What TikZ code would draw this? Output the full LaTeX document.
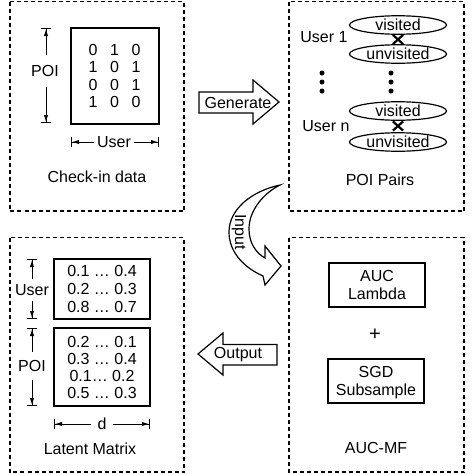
\documentclass[tikz,border=0pt]{standalone}
\usepackage{fontspec}
\setmainfont{Liberation Sans}
\usetikzlibrary{arrows.meta,shapes.geometric,shapes.misc}
\begin{document}
\begin{tikzpicture}[x=1pt,y=-1pt,
  every node/.style={font=\fontsize{16}{17.3}\selectfont, inner sep=0pt},
  dashbox/.style={draw, line width=1.2pt, dash pattern=on 4pt off 3pt},
  solidbox/.style={draw, line width=1.2pt},
  dimline/.style={line width=1pt, {Bar[width=10pt]Latex[length=7pt,width=4.5pt]}-{Latex[length=7pt,width=4.5pt]Bar[width=10pt]}},
  dimlabel/.style={fill=white},
  pairell/.style={ellipse, draw, line width=1.2pt, minimum width=97pt, minimum height=18.5pt, inner sep=0pt},
  xmark/.style={cross out, draw, line width=2.2pt, minimum width=8pt, minimum height=7pt, inner sep=0pt},
  dotnode/.style={circle, fill, minimum size=5pt, inner sep=0pt},
  blockarrow/.style={draw, line width=1.2pt, fill=white, line join=miter}]
\useasboundingbox (0,0) rectangle (474,474);

% dashed panels
\draw[dashbox] (10,1.5) rectangle (184,211);
\draw[dashbox] (289,1.5) rectangle (464,211);
\draw[dashbox] (10,237.5) rectangle (184,472);
\draw[dashbox] (289,237.5) rectangle (464,472);

% ---- Check-in data
\node[solidbox, minimum width=88pt, minimum height=96pt] (mat) at (115,76) {};
\node[align=center] (matv) at (114.5,76) {0\hspace{12.6pt}1\hspace{12.6pt}0\\1\hspace{12.6pt}0\hspace{12.6pt}1\\0\hspace{12.6pt}0\hspace{12.6pt}1\\1\hspace{12.6pt}0\hspace{12.6pt}0};
\coordinate (poiT) at (46,28);
\coordinate (poiB) at (46,123);
\draw[dimline] (poiT) -- (poiB);
\node[dimlabel, inner xsep=1pt, inner ysep=10pt] (poilab) at (45,71) {POI};
\coordinate (usrL) at (71,142);
\coordinate (usrR) at (159,142);
\draw[dimline] (usrL) -- (usrR);
\node[dimlabel, inner xsep=3pt, inner ysep=2pt] (usrlab) at (114,142) {User};
\node (check) at (97,177) {Check-in data};

% ---- POI pairs
\node[pairell] (v1) at (398,25) {visited};
\node[pairell] (u1) at (398,54) {unvisited};
\node[xmark] (x1) at (398,39.5) {};
\node (user1) at (324,37) {User 1};
\node[dotnode] (d1) at (322,73) {};
\node[dotnode] (d2) at (322,82) {};
\node[dotnode] (d3) at (322,91) {};
\node[dotnode] (d4) at (391,73) {};
\node[dotnode] (d5) at (391,82) {};
\node[dotnode] (d6) at (391,91) {};
\node[pairell] (v2) at (398,111) {visited};
\node[pairell] (u2) at (398,142) {unvisited};
\node[xmark] (x2) at (398,126) {};
\node (usern) at (326,126) {User n};
\node (pairs) at (380,180) {POI Pairs};

% ---- Generate arrow
\draw[blockarrow] (199,92) -- (253,92) -- (253,80) -- (279,102) -- (253,124) -- (253,113) -- (199,113) -- cycle;
\node (gen) at (238,102.5) {Generate};

% ---- Input curved arrow
\draw[blockarrow] (280,185) .. controls (252,191) and (229,209) .. (229,232)
  .. controls (229,253) and (245,268) .. (263,276)
  -- (265,285) -- (281,266) -- (265,246) -- (265,258)
  .. controls (256,253) and (249,243) .. (249,229)
  .. controls (249,210) and (264,193) .. cycle;
\node[rotate=-90] (inp) at (239,232) {Input};

% ---- Output arrow
\draw[blockarrow] (198,354) -- (223,333) -- (223,344.5) -- (277,344.5) -- (277,365) -- (223,365) -- (223,375) -- cycle;
\node (outp) at (238,355) {Output};

% ---- Latent matrix
\node[solidbox, minimum width=96pt, minimum height=60pt] (ub) at (102,289) {};
\node[align=center, font=\fontsize{16}{18}\selectfont] (ubv) at (102,289) {0.1 … 0.4\\0.2 … 0.3\\0.8 … 0.7};
\node[solidbox, minimum width=96pt, minimum height=78pt] (pb) at (102,367) {};
\node[align=center] (pbv) at (102,367.5) {0.2 … 0.1\\0.3 … 0.4\\0.1… 0.2\\0.5 … 0.3};
\coordinate (luT) at (32,259);
\coordinate (luB) at (32,319);
\draw[dimline] (luT) -- (luB);
\node[dimlabel, inner xsep=1pt, inner ysep=5pt] (lulab) at (32,290) {User};
\coordinate (lpT) at (32,328);
\coordinate (lpB) at (32,406);
\draw[dimline] (lpT) -- (lpB);
\node[dimlabel, inner xsep=1pt, inner ysep=8pt] (lplab) at (32,366) {POI};
\coordinate (ldL) at (54,424);
\coordinate (ldR) at (150,424);
\draw[dimline] (ldL) -- (ldR);
\node[dimlabel, inner xsep=7pt, inner ysep=2pt] (ldlab) at (102,424) {d};
\node (latent) at (90,449) {Latent Matrix};

% ---- AUC-MF
\node[solidbox, minimum width=96pt, minimum height=44pt, align=center, text depth=0pt] (auc) at (377,285) {AUC\\Lambda};
\node[font=\fontsize{20}{20}\selectfont] (plus) at (375,335) {+};
\node[solidbox, minimum width=96pt, minimum height=44pt, align=center, text depth=0pt] (sgd) at (376,381) {SGD\\Subsample};
\node (aucmf) at (376,448) {AUC-MF};
\end{tikzpicture}
\end{document}
